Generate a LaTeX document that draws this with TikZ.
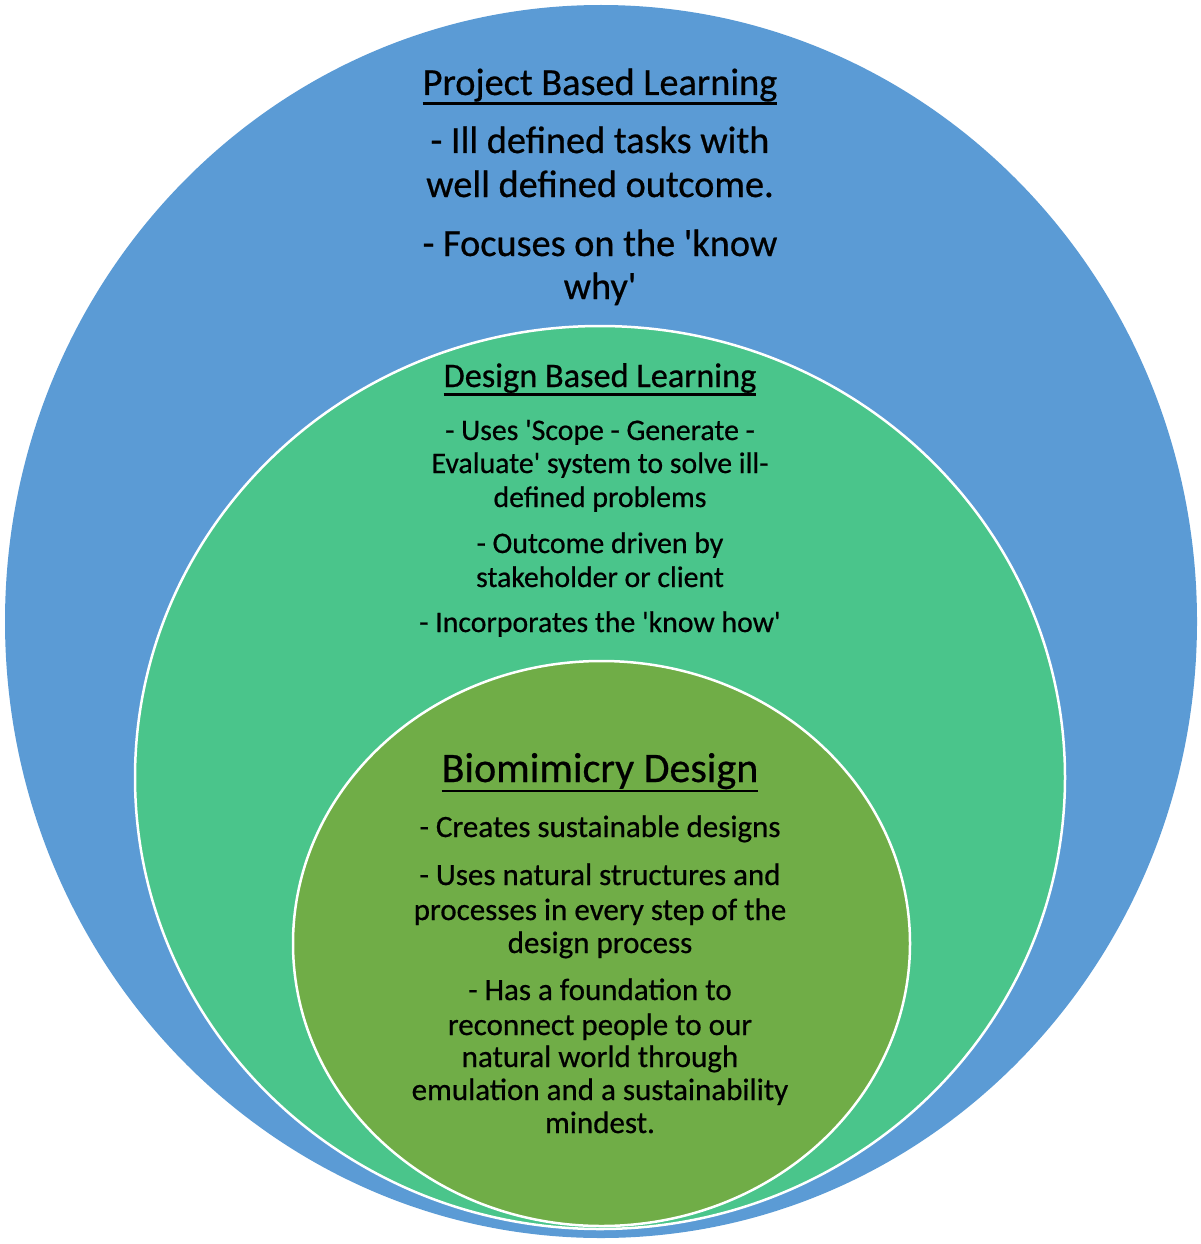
\documentclass[tikz,border=0pt]{standalone}
\usepackage{fontspec}
\setmainfont{Carlito}[FakeBold=0.6]

\definecolor{pblblue}{HTML}{5B9BD5}
\definecolor{dblgreen}{HTML}{4AC58B}
\definecolor{biogreen}{HTML}{70AD47}

% underline with a heavier bar
\newcommand{\ulbar}[1]{\vtop{\hbox{#1}\kern 0.5pt\hrule height 2.6pt}}

\tikzset{
  ring/.style={draw=white, line width=2.5},
  pbltext/.style={inner sep=0pt, font=\fontsize{38.3}{44}\selectfont},
  dbltext/.style={inner sep=0pt, font=\fontsize{29.8}{34}\selectfont},
  biotext/.style={inner sep=0pt, font=\fontsize{31}{34}\selectfont}
}

\begin{document}
\begin{tikzpicture}[x=1pt, y=-1pt, line join=round]
  % Picture frame (pixels of the original)
  \def\cx{600}
  \def\q{\textquotesingle}
  \useasboundingbox (0,0) rectangle (1200,1244);

  % Outer ellipse: project based learning
  \fill[pblblue] (601,621.5) ellipse [x radius=596, y radius=616.5];

  % Middle ellipse: design based learning
  \fill[dblgreen, ring] (600,777.5) ellipse [x radius=465, y radius=451.5];

  % Inner ellipse: biomimicry design
  \fill[biogreen, ring] (601.5,943.5) ellipse [x radius=308.5, y radius=282.5];

  % Project based learning
  \node[pbltext, anchor=base] (pbl-title) at (\cx,95) {\ulbar{Project Based Learning}};
  \foreach \yy/\txt in {153/{- Ill defined tasks with}, 197/{well defined outcome.},
                        256/{- Focuses on the \q know}, 299/{why\q}}
    \node[pbltext, anchor=base] (pbl-\yy) at (\cx,\yy) {\txt};

  % Design based learning
  \node[dbltext, anchor=base, font=\fontsize{34.3}{38}\selectfont] (dbl-title) at (\cx,387) {\ulbar{Design Based Learning}};
  \foreach \yy/\txt in {440/{- Uses \q Scope - Generate -}, 473/{Evaluate\q\ system to solve ill-},
                        507/{defined problems}, 553/{- Outcome driven by},
                        587/{stakeholder or client}, 632/{- Incorporates the \q know how\q}}
    \node[dbltext, anchor=base] (dbl-\yy) at (\cx,\yy) {\txt};

  % Biomimicry design
  \node[biotext, anchor=base, font=\fontsize{42}{46}\selectfont] (bio-title) at (\cx,782) {\ulbar{Biomimicry Design}};
  \foreach \yy/\txt in {837/{- Creates sustainable designs}, 885/{- Uses natural structures and},
                        920/{processes in every step of the}, 953/{design process},
                        1000/{- Has a foundation to}, 1035/{reconnect people to our},
                        1067/{natural world through}, 1100/{emulation and a sustainability},
                        1133/{mindest.}}
    \node[biotext, anchor=base] (bio-\yy) at (\cx,\yy) {\txt};
\end{tikzpicture}
\end{document}
